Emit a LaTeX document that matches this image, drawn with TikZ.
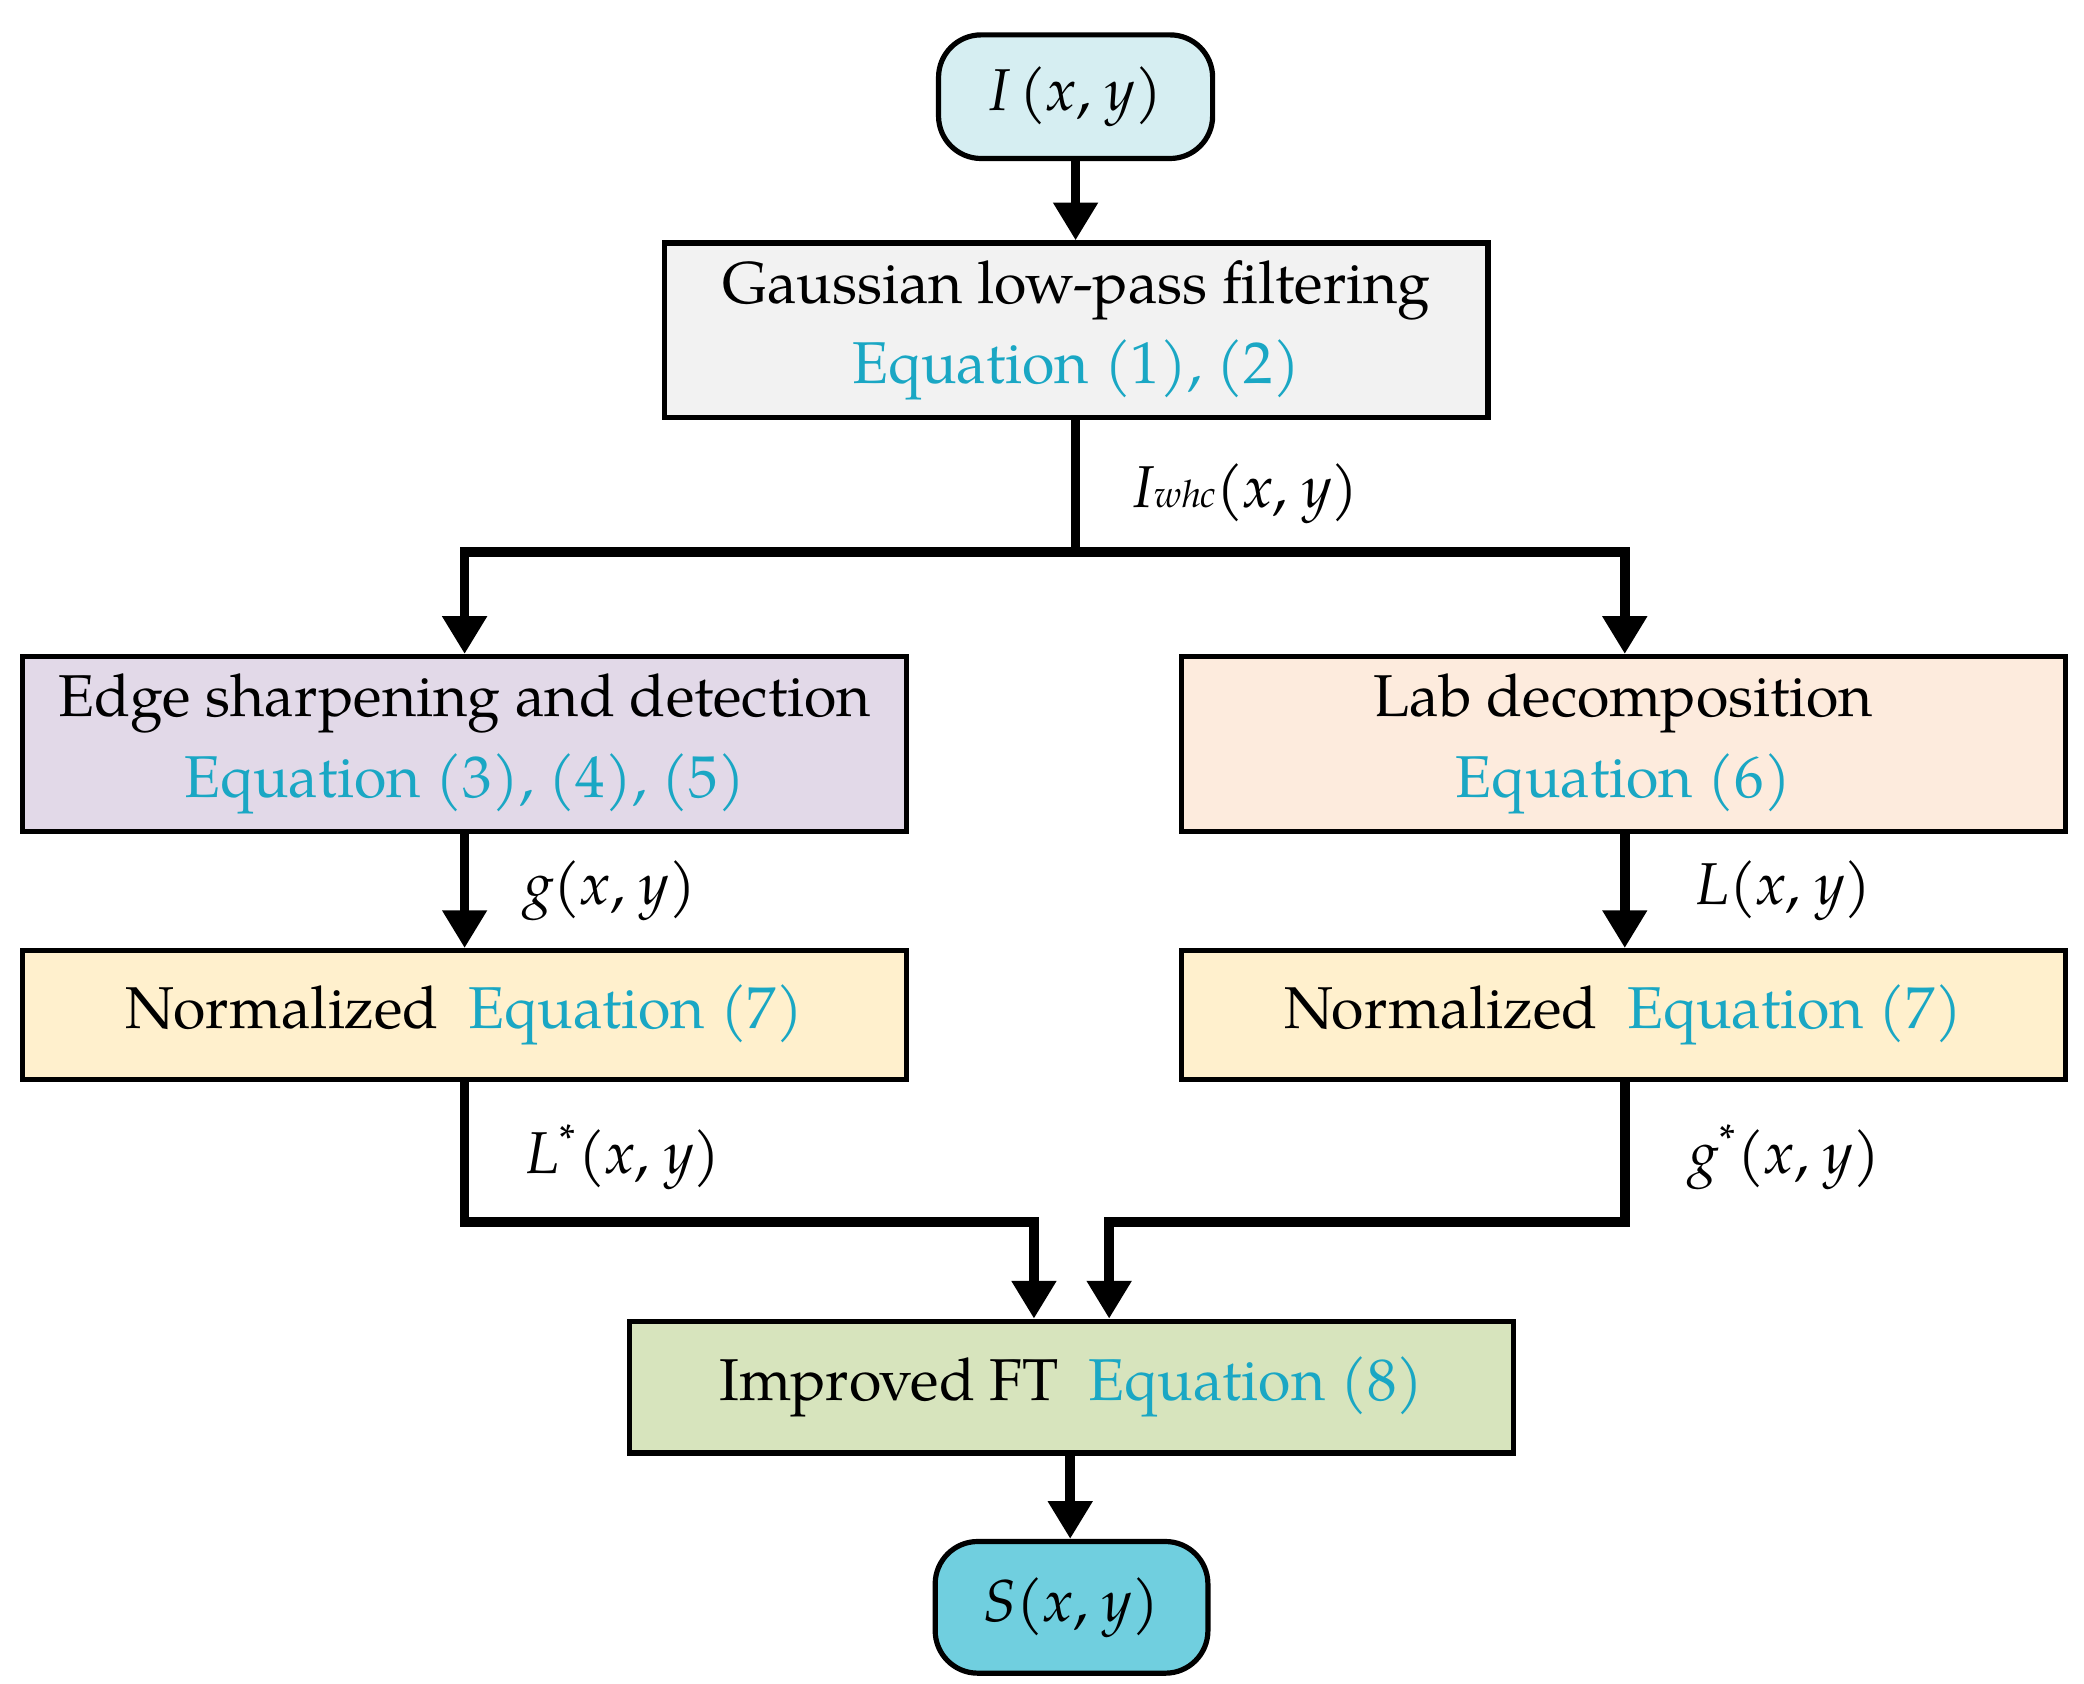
\documentclass[tikz,border=0pt]{standalone}
\usepackage{fontspec}
\setmainfont{TeX Gyre Pagella}
\usetikzlibrary{arrows.meta}
\definecolor{eq}{HTML}{1AA7C4}
\tikzset{
 box/.style={draw,line width=1.1pt,inner sep=0pt,font=\fontsize{12.5}{17}\selectfont,align=center},
 arr/.style={line width=2pt,-{Triangle[length=8pt,width=9pt]}},
 ln/.style={line width=2pt},
 lab/.style={font=\fontsize{12.5}{16}\selectfont,anchor=west}
}
\newcommand{\eqn}[1]{\textcolor{eq}{#1}}
\newcommand{\xy}{(\textit{x}, \textit{y})}
\begin{document}
\begin{tikzpicture}[x=0.01cm,y=-0.01cm]
\useasboundingbox (0,0) rectangle (1552,1254);
\node[box,rounded corners=9pt,fill={rgb,255:red,214;green,238;blue,242},minimum width=2.04cm,minimum height=0.92cm] (I) at (801,72) {\textit{I}\,\xy};
\node[box,fill=black!5,minimum width=6.13cm,minimum height=1.3cm] (G) at (801.5,246) {Gaussian low-pass filtering\\ \eqn{Equation (1), (2)}};
\node[box,fill={rgb,255:red,226;green,217;blue,232},minimum width=6.58cm,minimum height=1.3cm] (E) at (346,554) {Edge sharpening and detection\\ \eqn{Equation (3), (4), (5)}};
\node[box,fill={rgb,255:red,253;green,235;blue,221},minimum width=6.58cm,minimum height=1.3cm] (L) at (1209,554) {Lab decomposition\\ \eqn{Equation (6)}};
\node[box,fill={rgb,255:red,255;green,240;blue,205},minimum width=6.58cm,minimum height=0.96cm] (N1) at (346,756) {Normalized\ \ \eqn{Equation (7)}};
\node[box,fill={rgb,255:red,255;green,240;blue,205},minimum width=6.58cm,minimum height=0.96cm] (N2) at (1209,756) {Normalized\ \ \eqn{Equation (7)}};
\node[box,fill={rgb,255:red,215;green,228;blue,189},minimum width=6.58cm,minimum height=0.98cm] (F) at (798,1033) {Improved FT\ \ \eqn{Equation (8)}};
\node[box,rounded corners=9pt,fill={rgb,255:red,112;green,207;blue,223},minimum width=2.03cm,minimum height=0.98cm] (S) at (798,1197) {\textit{S}\xy};
\coordinate (J) at (801,411);
\coordinate (Jl) at (346,411);
\coordinate (Jr) at (1210,411);
\draw[arr] (I.south -| 801,0) -- (G.north -| 801,0);
\draw[ln] (G.south -| J) -- (J);
\draw[arr] (J) -- (Jl) -- (E.north);
\draw[arr] (J) -- (Jr) -- (L.north -| Jr);
\draw[arr] (E.south) -- (N1.north);
\draw[arr] (L.south -| Jr) -- (N2.north -| Jr);
\draw[arr] (N1.south) -- (346,910) -- (770,910) -- (F.north -| 770,0);
\draw[arr] (N2.south -| Jr) -- (1210,910) -- (826,910) -- (F.north -| 826,0);
\draw[arr] (F.south -| 797,0) -- (S.north -| 797,0);
\node[lab] (l1) at (832,368) {\textit{I}{\fontsize{8}{10}\selectfont\textit{whc}}\xy};
\node[lab] (l2) at (378,663) {\textit{g}\xy};
\node[lab] (l3) at (1251,663) {\textit{L}\xy};
\node[lab] (l4) at (380,862) {\textit{L}\textsuperscript{*}\xy};
\node[lab] (l5) at (1246,862) {\textit{g}\textsuperscript{*}\xy};
\end{tikzpicture}
\end{document}
